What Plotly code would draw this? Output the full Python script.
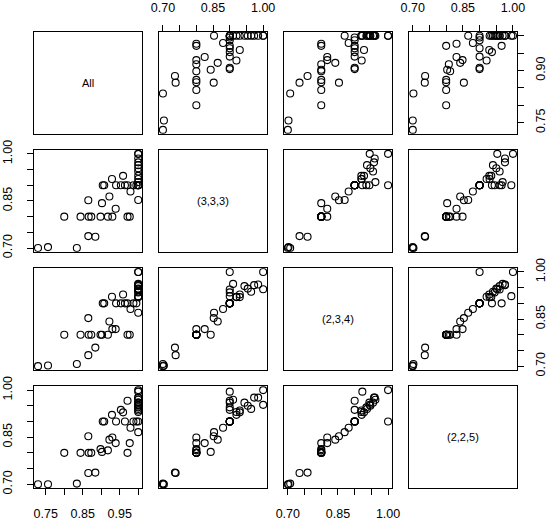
import plotly.graph_objects as go
from plotly.subplots import make_subplots

# Scatterplot matrix data (one value per case, same order in every list)
all_vals = [0.729, 0.756, 0.834, 0.800, 0.844, 0.866, 0.873, 0.898, 0.918, 0.930,
            0.971, 0.977, 0.865, 0.865, 0.884, 0.902, 0.922, 0.939, 0.904, 0.908,
            0.929, 0.959, 0.940, 0.953, 0.964, 0.971, 0.987, 0.995, 0.979, 1.000,
            1.000, 1.000, 1.000, 1.000, 1.000, 1.000, 1.000, 1.000, 1.000, 1.000,
            1.000, 1.000, 1.000, 1.000]
v333 = [0.700, 0.703, 0.700, 0.800, 0.800, 0.800, 0.800, 0.800, 0.800, 0.800,
        0.800, 0.800, 0.852, 0.738, 0.736, 0.843, 0.864, 0.825, 0.900, 0.900,
        0.920, 0.930, 0.900, 0.900, 0.900, 0.900, 0.900, 0.900, 0.880, 0.853,
        0.900, 1.000, 0.900, 0.910, 0.920, 0.930, 0.944, 0.954, 0.964, 0.973,
        0.985, 1.000, 0.900, 0.900]
v234 = [0.700, 0.702, 0.707, 0.800, 0.800, 0.800, 0.800, 0.800, 0.800, 0.818,
        0.800, 0.800, 0.853, 0.735, 0.759, 0.800, 0.842, 0.818, 0.900, 0.900,
        0.921, 0.928, 0.900, 0.900, 0.900, 0.900, 0.900, 0.900, 0.882, 0.870,
        1.000, 1.000, 0.923, 0.962, 0.920, 0.920, 0.955, 0.947, 0.937, 0.958,
        0.960, 0.945, 0.944, 0.935]
v225 = [0.700, 0.700, 0.702, 0.800, 0.800, 0.800, 0.800, 0.812, 0.808, 0.849,
        0.800, 0.831, 0.853, 0.736, 0.737, 0.803, 0.842, 0.831, 0.900, 0.900,
        0.921, 0.929, 0.900, 0.937, 0.900, 0.966, 0.900, 0.900, 0.880, 0.866,
        0.900, 1.000, 0.995, 0.969, 0.930, 0.935, 0.960, 0.950, 0.940, 0.976,
        0.976, 0.953, 0.960, 0.945]

var_names = ["All", "(3,3,3)", "(2,3,4)", "(2,2,5)"]
columns = [all_vals, v333, v234, v225]

tick_main = [0.70, 0.75, 0.80, 0.85, 0.90, 0.95, 1.00]
text_main = ["0.70", "", "", "0.85", "", "", "1.00"]
tick_all = [0.75, 0.80, 0.85, 0.90, 0.95, 1.00]
text_all_bottom = ["0.75", "", "0.85", "", "0.95", ""]
text_all_right = ["0.75", "", "", "0.90", "", ""]


def pad_range(vals):
    # R style 4% extension
    lo, hi = min(vals), max(vals)
    d = (hi - lo) * 0.04
    return [lo - d, hi + d]


ranges = [pad_range(v) for v in columns]

fig = make_subplots(rows=4, cols=4, horizontal_spacing=0.0345, vertical_spacing=0.036)

font = dict(family="Liberation Sans, Arial, sans-serif", size=12.5, color="black")

for r in range(4):
    for c in range(4):
        if r != c:
            fig.add_trace(go.Scatter(
                x=columns[c], y=columns[r], mode="markers",
                marker=dict(symbol="circle-open", size=7, color="black",
                            line=dict(width=1.1, color="black")),
                showlegend=False, hoverinfo="skip"
            ), row=r + 1, col=c + 1)
        else:
            fig.add_annotation(
                x=sum(ranges[c]) / 2, y=sum(ranges[r]) / 2, text=var_names[r],
                showarrow=False, font=dict(family=font["family"], size=11, color="black"),
                row=r + 1, col=c + 1)

        # x axis
        xa = dict(range=ranges[c], showgrid=False, zeroline=False, showline=True,
                  mirror=True, linecolor="black", linewidth=1, ticks="",
                  showticklabels=False, fixedrange=True, automargin=False)
        if (r == 0 and c in (1, 3)) or (r == 3 and c in (0, 2)):
            xa.update(ticks="outside", ticklen=6, tickwidth=1, tickcolor="black",
                      showticklabels=True, tickfont=font,
                      ticklabelstandoff=8,
                      side="top" if r == 0 else "bottom")
            if c == 0:
                xa.update(tickvals=tick_all, ticktext=text_all_bottom)
            else:
                xa.update(tickvals=tick_main, ticktext=text_main)
        fig.update_xaxes(xa, row=r + 1, col=c + 1)

        # y axis
        ya = dict(range=ranges[r], showgrid=False, zeroline=False, showline=True,
                  mirror=True, linecolor="black", linewidth=1, ticks="",
                  showticklabels=False, fixedrange=True, automargin=False)
        if (c == 0 and r in (1, 3)) or (c == 3 and r in (0, 2)):
            ya.update(ticks="outside", ticklen=6, tickwidth=1, tickcolor="black",
                      showticklabels=True, tickfont=font, tickangle=-90,
                      ticklabelstandoff=10 if c == 0 else 6,
                      side="left" if c == 0 else "right")
            if r == 0:
                ya.update(tickvals=tick_all, ticktext=text_all_right)
            else:
                ya.update(tickvals=tick_main, ticktext=text_main)
        fig.update_yaxes(ya, row=r + 1, col=c + 1)

fig.update_layout(
    width=550, height=521,
    margin=dict(l=34, r=33, t=32, b=33),
    plot_bgcolor="white", paper_bgcolor="white",
    showlegend=False,
)

fig.write_html("out.html", config={"displayModeBar": False},
               post_script="document.body.style.margin='0px';")
